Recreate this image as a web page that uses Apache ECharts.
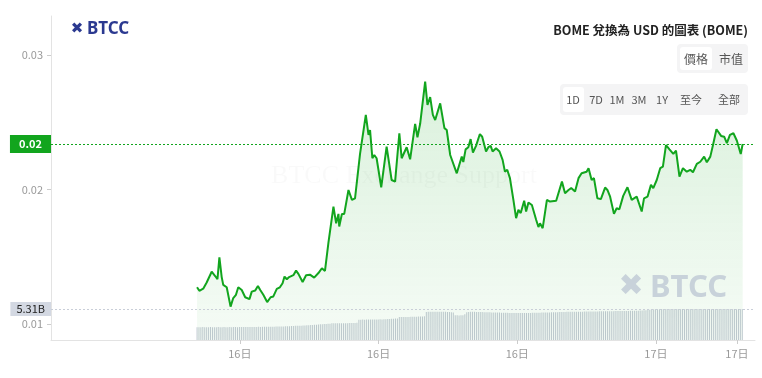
<!DOCTYPE html>
<html>
<head>
<meta charset="utf-8">
<title>BOME / USD</title>
<script src="https://cdn.jsdelivr.net/npm/echarts@6/dist/echarts.min.js"></script>
<style>
    html, body { margin: 0; padding: 0; background: #fff; }
    #chart { width: 762px; height: 378px; }
</style>
</head>
<body>
<div id="chart"></div>
<script>
// 起點時間 (UTC)，價格點以「距起點分鐘數」記錄
const startTime = Date.UTC(2024, 2, 16, 4, 9);

const minutes = [0, 6, 16, 25, 29, 38, 47, 53, 58, 64, 68, 77, 87, 94, 101, 107, 116, 125, 136, 142,
    151, 158, 164, 172, 182, 191, 198, 207, 215, 222, 227, 233, 239, 244, 250, 257, 263, 274, 283, 293,
    304, 315, 324, 332, 337, 341, 354, 361, 367, 369, 376, 382, 393, 402, 410, 423, 428, 438, 445, 449,
    455, 460, 466, 478, 492, 505, 514, 525, 531, 544, 553, 566, 572, 579, 592, 598, 605, 612, 618, 631,
    642, 648, 657, 674, 687, 691, 697, 704, 710, 716, 724, 734, 740, 750, 756, 762, 767, 776, 785, 793,
    799, 805, 812, 821, 828, 834, 840, 849, 854, 860, 869, 873, 880, 886, 890, 897, 908, 916, 932, 947,
    955, 964, 971, 981, 990, 998, 1011, 1016, 1024, 1030, 1039, 1048, 1059, 1065, 1072, 1082, 1089, 1096, 1106, 1117,
    1128, 1141, 1154, 1160, 1169, 1178, 1184, 1193, 1202, 1209, 1217, 1226, 1236, 1243, 1252, 1261, 1271, 1280, 1287, 1297,
    1306, 1316, 1323, 1332, 1339, 1348, 1360, 1368, 1375, 1383, 1392, 1401, 1411, 1416];

const prices = [0.01636, 0.01623, 0.01631, 0.01654, 0.01661, 0.01694, 0.01678, 0.01666, 0.01747, 0.01674,
    0.01645, 0.01636, 0.01564, 0.01596, 0.01608, 0.01636, 0.01626, 0.01599, 0.01592, 0.01620,
    0.01624, 0.01641, 0.01626, 0.01608, 0.01581, 0.01599, 0.01602, 0.01630, 0.01636, 0.01651,
    0.01676, 0.01666, 0.01674, 0.01670, 0.01681, 0.01698, 0.01686, 0.01656, 0.01681, 0.01683,
    0.01672, 0.01689, 0.01707, 0.01697, 0.01698, 0.01802, 0.01936, 0.01874, 0.01909, 0.01862,
    0.01909, 0.01909, 0.01998, 0.01961, 0.01967, 0.02132, 0.02128, 0.02277, 0.02203, 0.02221,
    0.02116, 0.02128, 0.02116, 0.02008, 0.02159, 0.02035, 0.02029, 0.02209, 0.02116, 0.02157,
    0.02112, 0.02244, 0.02194, 0.02244, 0.02401, 0.02314, 0.02343, 0.02277, 0.02258, 0.02320,
    0.02228, 0.02221, 0.02128, 0.02060, 0.02122, 0.02102, 0.02149, 0.02157, 0.02187, 0.02137,
    0.02162, 0.02206, 0.02196, 0.02141, 0.02157, 0.02162, 0.02141, 0.02153, 0.02141, 0.02110,
    0.02066, 0.02073, 0.02042, 0.01961, 0.01893, 0.01924, 0.01912, 0.01958, 0.01918, 0.01951,
    0.01942, 0.01936, 0.01887, 0.01860, 0.01874, 0.01856, 0.01961, 0.01955, 0.01958, 0.02029,
    0.01986, 0.01998, 0.02005, 0.01992, 0.02042, 0.02060, 0.02066, 0.02079, 0.02035, 0.02042,
    0.01967, 0.01964, 0.02007, 0.01998, 0.01973, 0.01909, 0.01930, 0.01926, 0.01976, 0.02008,
    0.01961, 0.01973, 0.01918, 0.01967, 0.01973, 0.02017, 0.02005, 0.02035, 0.02079, 0.02085,
    0.02165, 0.02149, 0.02132, 0.02144, 0.02048, 0.02079, 0.02066, 0.02073, 0.02064, 0.02095,
    0.02103, 0.02122, 0.02101, 0.02122, 0.02165, 0.02224, 0.02199, 0.02196, 0.02172, 0.02203,
    0.02209, 0.02181, 0.02132, 0.02169];

// 每 5 分鐘一根，單位 B
const volumes = [
    2.18, 2.20, 2.19, 2.21, 2.20, 2.18, 2.20, 2.21, 2.19, 2.20,
    2.20, 2.21, 2.19, 2.20, 2.22, 2.20, 2.19, 2.21, 2.20, 2.22,
    2.21, 2.20, 2.22, 2.21, 2.23, 2.22, 2.21, 2.23, 2.22, 2.24,
    2.23, 2.24, 2.25, 2.24, 2.26, 2.25, 2.27, 2.26, 2.28, 2.27,
    2.29, 2.30, 2.31, 2.30, 2.32, 2.33, 2.34, 2.35, 2.36, 2.38,
    2.40, 2.42, 2.43, 2.45, 2.46, 2.48, 2.50, 2.52, 2.54, 2.56,
    2.58, 2.60, 2.62, 2.65, 2.68, 2.70, 2.72, 2.75, 2.78, 2.80,
    2.85, 2.86, 2.85, 2.87, 2.86, 2.88, 2.87, 2.89, 2.88, 2.90,
    2.91, 2.92, 2.93, 2.95, 3.45, 3.48, 3.50, 3.49, 3.51, 3.50,
    3.50, 3.52, 3.51, 3.53, 3.52, 3.54, 3.53, 3.55, 3.56, 3.58,
    3.60, 3.62, 3.65, 3.68, 3.70, 3.92, 3.94, 3.95, 3.96, 3.95,
    3.96, 3.97, 3.98, 3.99, 4.00, 4.01, 4.02, 4.03, 4.05, 4.80,
    4.82, 4.85, 4.86, 4.85, 4.84, 4.86, 4.85, 4.84, 4.83, 4.82,
    4.80, 4.78, 4.75, 4.70, 4.25, 4.22, 4.20, 4.22, 4.25, 4.40,
    4.75, 4.80, 4.82, 4.83, 4.82, 4.81, 4.80, 4.79, 4.78, 4.77,
    4.76, 4.75, 4.74, 4.73, 4.72, 4.71, 4.70, 4.69, 4.68, 4.67,
    4.66, 4.65, 4.64, 4.64, 4.63, 4.62, 4.62, 4.61, 4.62, 4.62,
    4.63, 4.63, 4.64, 4.64, 4.65, 4.65, 4.66, 4.67, 4.68, 4.69,
    4.70, 4.71, 4.72, 4.73, 4.74, 4.75, 4.76, 4.77, 4.78, 4.79,
    4.80, 4.81, 4.82, 4.83, 4.83, 4.84, 4.84, 4.85, 4.85, 4.86,
    4.86, 4.87, 4.87, 4.88, 4.88, 4.89, 4.89, 4.90, 4.90, 4.91,
    4.91, 4.92, 4.92, 4.93, 4.93, 4.94, 4.94, 4.95, 4.95, 4.96,
    4.96, 4.97, 4.97, 4.98, 4.98, 4.99, 5.00, 5.01, 5.02, 5.03,
    5.04, 5.06, 5.08, 5.10, 5.15, 5.20, 5.24, 5.26, 5.27, 5.28,
    5.28, 5.29, 5.29, 5.29, 5.30, 5.30, 5.30, 5.30, 5.30, 5.30,
    5.30, 5.30, 5.31, 5.31, 5.31, 5.31, 5.31, 5.31, 5.31, 5.31,
    5.31, 5.31, 5.31, 5.31, 5.31, 5.31, 5.31, 5.31, 5.31, 5.31,
    5.31, 5.31, 5.31, 5.31, 5.31, 5.31, 5.31, 5.31, 5.31, 5.31,
    5.31, 5.31, 5.31, 5.31];

const currentPrice = 0.02169;
const lastVolume = 5.31;

const yTicks = [0.015, 0.02, 0.025];
// x 軸刻度 (距起點分鐘數): 16日 06:00, 12:00, 18:00, 17日 00:00, 03:30
const xTicks = [111, 471, 831, 1191, 1401];

const periods = ['1D', '7D', '1M', '3M', '1Y', '至今', '全部'];

const FONT = '"Noto Sans CJK TC", "Noto Sans", sans-serif';
const MIN = 60000;
const GREEN = '#12a51e';

const priceData = minutes.map((m, i) => [m, prices[i]]);
const volumeData = volumes.map((v, i) => [i * 5, v]);

// 週期按鈕的中心位置
const periodX = [573, 596, 617, 639, 662, 691, 729];

let myChart = echarts.init(document.getElementById('chart'));

let graphics = [
    // 左上 logo
    {type: 'text', x: 77, y: 29, style: {text: '✖', fill: '#2b3990', font: 'bold 15px "DejaVu Sans"', align: 'center', verticalAlign: 'middle'}},
    {type: 'text', x: 87, y: 29, style: {text: 'BTCC', fill: '#2b3990', font: 'bold 17px "Noto Sans"', verticalAlign: 'middle'}},
    // 標題
    {type: 'text', x: 748, y: 30, style: {text: 'BOME 兌換為 USD 的圖表 (BOME)', fill: '#222', font: 'bold 12.5px ' + FONT, align: 'right', verticalAlign: 'middle'}},
    // 價格 / 市值
    {type: 'rect', shape: {x: 677, y: 44, width: 71, height: 29, r: 4}, style: {fill: '#f4f4f5'}},
    {type: 'rect', shape: {x: 680, y: 47, width: 32, height: 23, r: 3}, style: {fill: '#fff'}},
    {type: 'text', x: 696, y: 59, style: {text: '價格', fill: '#555', font: '12px ' + FONT, align: 'center', verticalAlign: 'middle'}},
    {type: 'text', x: 731, y: 59, style: {text: '市值', fill: '#555', font: '12px ' + FONT, align: 'center', verticalAlign: 'middle'}},
    // 週期
    {type: 'rect', shape: {x: 560, y: 84, width: 188, height: 31, r: 4}, style: {fill: '#f4f4f5'}},
    {type: 'rect', shape: {x: 563, y: 87, width: 21, height: 25, r: 3}, style: {fill: '#fff'}},
    // 水印
    {type: 'text', x: 404, y: 176, z: 100, style: {text: 'BTCC Exchange Support', fill: 'rgba(0,0,0,0.025)', font: '26px "Liberation Serif"', align: 'center', verticalAlign: 'middle'}},
    {type: 'text', x: 631, y: 287, z: 100, style: {text: '✖', fill: 'rgba(190,200,212,0.8)', font: 'bold 30px "DejaVu Sans"', align: 'center', verticalAlign: 'middle'}},
    {type: 'text', x: 650, y: 288, z: 100, style: {text: 'BTCC', fill: 'rgba(190,200,212,0.8)', font: 'bold 31px "Noto Sans"', verticalAlign: 'middle'}}
];
periods.forEach((p, i) => {
    graphics.push({type: 'text', x: periodX[i], y: 100, style: {text: p, fill: '#555', font: '11px ' + FONT, align: 'center', verticalAlign: 'middle'}});
});

myChart.setOption({
    animation: false,
    textStyle: {fontFamily: FONT},
    grid: {left: 51, right: 7, top: 16, bottom: 38},
    xAxis: {
        type: 'value',
        min: -379,
        max: 1448,
        axisLine: {onZero: false, lineStyle: {color: '#e3e3e3'}},
        axisTick: {show: true, length: 4, lineStyle: {color: '#ccc'}, customValues: xTicks},
        axisLabel: {
            color: '#9a9a9a', fontSize: 11, margin: 8, customValues: xTicks,
            formatter: v => new Date(startTime + v * MIN).getUTCDate() + '日'
        },
        splitLine: {show: false}
    },
    yAxis: [{
        type: 'value',
        min: 0.0144,
        max: 0.02645,
        axisLine: {show: true, onZero: false, lineStyle: {color: '#e3e3e3'}},
        axisTick: {show: true, length: 4, lineStyle: {color: '#ccc'}, customValues: yTicks},
        axisLabel: {color: '#9a9a9a', fontSize: 11, customValues: yTicks, formatter: v => v.toFixed(2)},
        splitLine: {show: false}
    }, {
        type: 'value',
        min: 0,
        max: 55.5,
        show: false
    }],
    graphic: graphics,
    series: [{
        name: '價格',
        type: 'line',
        data: priceData,
        symbol: 'none',
        lineStyle: {color: GREEN, width: 2},
        itemStyle: {color: GREEN},
        areaStyle: {
            origin: 'start',
            color: new echarts.graphic.LinearGradient(0, 0, 0, 1, [
                {offset: 0, color: 'rgba(18,165,30,0.22)'},
                {offset: 1, color: 'rgba(18,165,30,0.06)'}
            ])
        },
        markLine: {
            silent: true,
            symbol: 'none',
            precision: 6,
            lineStyle: {color: GREEN, type: [2, 2], width: 1},
            label: {
                position: 'start', distance: 0,
                formatter: () => currentPrice.toFixed(2),
                backgroundColor: GREEN, color: '#fff', fontWeight: 'bold', fontSize: 11,
                padding: [4, 9, 3, 9]
            },
            data: [{yAxis: currentPrice}]
        }
    }, {
        name: '市值',
        type: 'bar',
        yAxisIndex: 1,
        data: volumeData,
        barWidth: 1,
        itemStyle: {color: '#c3c9d4'},
        markLine: {
            silent: true,
            symbol: 'none',
            precision: 4,
            lineStyle: {color: '#c9ced8', type: [2, 2], width: 1},
            label: {
                position: 'start', distance: 0,
                formatter: () => lastVolume.toFixed(2) + 'B',
                backgroundColor: '#d3d8e2', color: '#222', fontSize: 11,
                padding: [2, 6, 1, 6]
            },
            data: [{yAxis: lastVolume}]
        }
    }]
});
</script>
</body>
</html>
